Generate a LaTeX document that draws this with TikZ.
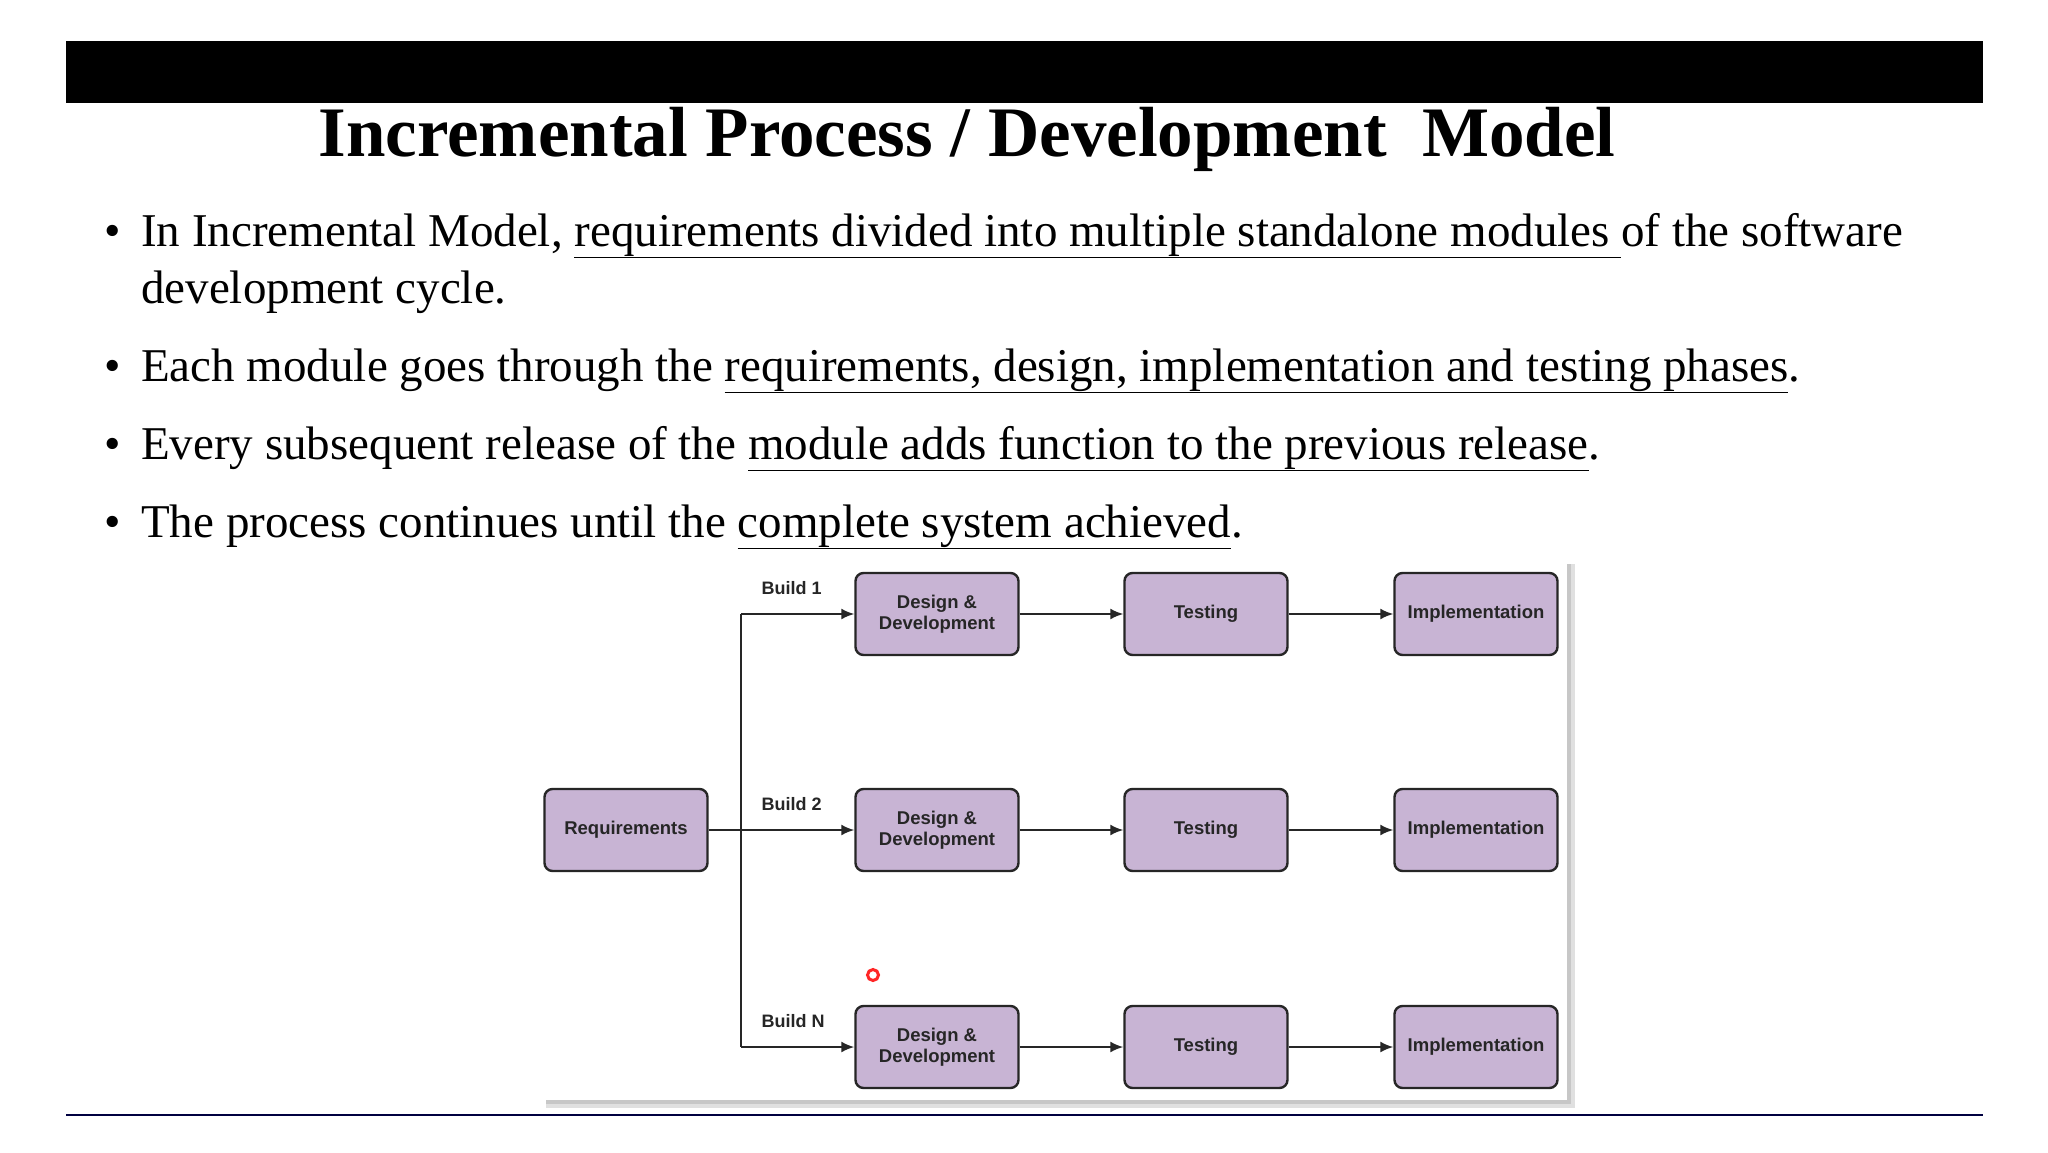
\documentclass[tikz,border=0pt]{standalone}
\usepackage{fontspec}
\setmainfont{Liberation Serif}
\newfontfamily\boxfont{Liberation Sans}
\usetikzlibrary{arrows.meta}
\definecolor{boxfill}{RGB}{200,180,212}
\begin{document}
\begin{tikzpicture}[x=1pt,y=-1pt,
  blk/.style={draw=black!85,line width=2.4pt,rounded corners=8pt,fill=boxfill,
    minimum width=163pt,minimum height=82pt,align=center,font=\boxfont\bfseries\fontsize{18.5}{21}\selectfont,text=black!85},
  arr/.style={line width=2pt,draw=black!85,-{Latex[length=13pt,width=11pt]}},
  lbl/.style={font=\boxfont\bfseries\fontsize{18}{20}\selectfont,text=black!85},
  bl/.style={anchor=base west,font=\fontsize{47}{50}\selectfont,inner sep=0pt}]
\useasboundingbox (0,0) rectangle (2048,1152);
\fill[white] (0,0) rectangle (2048,1152);
\fill[black] (66,41) rectangle (1983,103);
\node[font=\bfseries\fontsize{71}{75}\selectfont,anchor=base] (title) at (967,156) {Incremental Process / Development\ \ Model};
\node[bl] (b1) at (104,246) {\textbullet};
\node[bl] (l1) at (141,246) {In Incremental Model, \underline{requirements divided into multiple standalone modules }of the software};
\node[bl] (l1b) at (141,303) {development cycle.};
\node[bl] (b2) at (104,381) {\textbullet};
\node[bl] (l2) at (141,381) {Each module goes through the \underline{requirements, design, implementation and testing phases}.};
\node[bl] (b3) at (104,459) {\textbullet};
\node[bl] (l3) at (141,459) {Every subsequent release of the \underline{module adds function to the previous release}.};
\node[bl] (b4) at (104,537) {\textbullet};
\node[bl] (l4) at (141,537) {The process continues until the \underline{complete system achieved}.};
% panel
\fill[black!12] (546,564) rectangle (1575,1108);
\fill[black!22] (546,564) rectangle (1571,1104);
\fill[white] (541,558) rectangle (1567,1100);
\node[blk] (req) at (626,830) {Requirements};
\coordinate (tr) at (741,830);
\foreach \r/\y/\b in {1/614/Build 1,2/830/Build 2,3/1047/Build N}{
  \node[blk] (d\r) at (937,\y) {Design \&\\Development};
  \node[blk] (t\r) at (1206,\y) {Testing};
  \node[blk] (i\r) at (1476,\y) {Implementation};
  \coordinate (j\r) at (741,\y);
  \node[lbl,anchor=base west] (bl\r) at (758,\y-20) {\b};
  \draw[arr] (j\r) -- (d\r);
  \draw[arr] (d\r) -- (t\r);
  \draw[arr] (t\r) -- (i\r);
}
\draw[line width=2pt,black!85] (req) -- (j2);
\draw[line width=2pt,black!85] (j1) -- (j3);
\node[circle,draw=red!85,line width=3pt,inner sep=0pt,minimum size=11pt,fill=white] (dot) at (873,975) {};
\draw[line width=2.5pt,draw=black!75!blue] (66,1115) -- (1983,1115);
\end{tikzpicture}
\end{document}
